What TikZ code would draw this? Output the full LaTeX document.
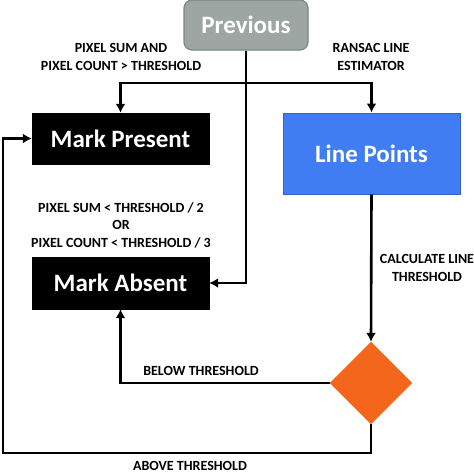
\documentclass[tikz,border=0pt]{standalone}
\usepackage{fontspec}
\setmainfont{Carlito}
\usepackage{xcolor}
\usetikzlibrary{positioning,shapes.geometric,arrows.meta}
\definecolor{MGray}{HTML}{9DA6A2}
\definecolor{MGrayDark}{HTML}{7E8783}
\definecolor{MBlue}{HTML}{407CF2}
\definecolor{MBlueDark}{HTML}{2F63C8}
\definecolor{MOrange}{HTML}{F4661B}

\begin{document}
\begin{tikzpicture}[x=1pt,y=-1pt,
  box/.style={draw=black,fill=black,text=white,font=\fontsize{25}{28}\bfseries\selectfont,
              minimum width=177pt,inner sep=0pt,align=center},
  lbl/.style={font=\fontsize{14}{18}\bfseries\selectfont,align=center,inner sep=0pt},
  arr/.style={-{Latex[length=9pt,width=10pt]},line width=2.6pt}]
  \useasboundingbox (0,0) rectangle (474,474);
  \node[box,draw=MGrayDark,fill=MGray,line width=1.2pt,rounded corners=8pt,
        minimum width=124pt,minimum height=50pt] (prev) at (246,25) {Previous};
  \node[box,minimum height=51pt] (mp) at (120.5,138.5) {Mark Present};
  \node[box,draw=MBlueDark,fill=MBlue,line width=1pt,minimum height=81pt] (lp) at (371.5,153.5) {Line Points};
  \node[box,minimum height=52pt] (ma) at (120.5,283) {Mark Absent};
  \node[diamond,draw=MOrange,fill=MOrange,inner sep=0pt,minimum width=82pt,minimum height=82pt] (dec) at (371,383) {};
  % labels
  \node[lbl] (lsum) at (121,57) {PIXEL SUM AND\\PIXEL COUNT > THRESHOLD};
  \node[lbl] (lransac) at (371,57) {RANSAC LINE\\ESTIMATOR};
  \node[lbl,font=\fontsize{14}{17.5}\bfseries\selectfont] (lless) at (121,225) {PIXEL SUM < THRESHOLD / 2\\OR\\PIXEL COUNT < THRESHOLD / 3};
  \node[lbl] (lcalc) at (427,268) {CALCULATE LINE\\THRESHOLD};
  \node[lbl] (lbelow) at (201,371) {BELOW THRESHOLD};
  \node[lbl] (labove) at (190,466) {ABOVE THRESHOLD};
  % connectors
  \coordinate (split) at (246,83);
  \coordinate (loop) at (3,453);
  \draw[arr] (prev.south) |- (ma.east);
  \draw[arr] (split) -| (mp.north);
  \draw[arr] (split) -| (lp.north);
  \draw[arr] (lp.south) -- (dec.north);
  \draw[arr] (dec.west) -| (ma.south);
  \draw[arr] (dec.south) |- (loop) |- (mp.west);
\end{tikzpicture}
\end{document}
